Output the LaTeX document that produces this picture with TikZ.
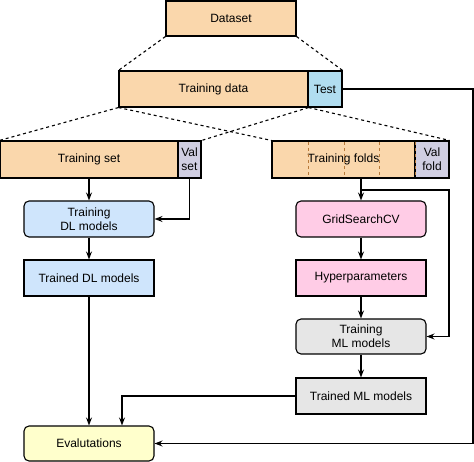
\documentclass[tikz,border=0pt]{standalone}
\usepackage{fontspec}
\setmainfont{Liberation Sans}
\definecolor{peach}{HTML}{FAD7AC}
\definecolor{testblue}{HTML}{B1DDF0}
\definecolor{valpurple}{HTML}{D0CEE2}
\definecolor{dlblue}{HTML}{CFE5FC}
\definecolor{mlpink}{HTML}{FFCCE6}
\definecolor{mlgray}{HTML}{E6E6E6}
\definecolor{evalyellow}{HTML}{FFFFCC}
\definecolor{folddash}{HTML}{B87A3A}
\usetikzlibrary{arrows.meta,positioning,calc}

\begin{document}
\begin{tikzpicture}[>=Stealth, x=1pt, y=-1pt, line width=1.1pt,
    every node/.style={font=\fontsize{12}{14}\selectfont, align=center, inner sep=0pt},
    part/.style={draw, minimum height=36pt},
    stage/.style={draw, minimum width=130pt, minimum height=36pt},
    roundstage/.style={stage, rounded corners=5pt}]
        \useasboundingbox (0,0) rectangle (474,462);

        % data splits
        \node (data) [part, fill=peach, minimum width=130pt, minimum height=35pt] at (231,18.5) {Dataset};
        \node (train) [part, fill=peach, minimum width=189pt] at (213.5,89) {Training data};
        \node (test) [part, fill=testblue, minimum width=34pt] at (325,89) {Test};
        \node (tset) [part, fill=peach, minimum width=178pt, minimum height=37pt] at (89,159.5) {Training set};
        \node (vset) [part, fill=valpurple, minimum width=23pt, minimum height=37pt] at (189.5,159.5) {Val\\set};
        \node (folds) [part, fill=peach, minimum width=143pt, minimum height=37pt] at (343.5,159.5) {Training folds};
        \node (vfold) [part, fill=valpurple, minimum width=34pt, minimum height=37pt] at (432,159.5) {Val\\fold};
        \foreach \fx in {308,344,379,415}
            \draw[folddash, dashed, line width=0.8pt] (\fx,142) -- (\fx,177);

        \draw[dashed] (data.south west) -- (train.north west);
        \draw[dashed] (data.south east) -- (test.north east);
        \draw[dashed] (train.south west) -- (tset.north west);
        \draw[dashed] (train.south west) -- (folds.north west);
        \draw[dashed] (train.south east) -- (vset.north east);
        \draw[dashed] (train.south east) -- (vfold.north east);

        % DL branch
        \node (dltrain) [roundstage, fill=dlblue] at (89,219) {Training\\DL models};
        \node (dlmodel) [stage, fill=dlblue] at (89,278) {Trained DL models};

        % ML branch
        \node (grid) [roundstage, fill=mlpink] at (361,219) {GridSearchCV};
        \node (hyper) [stage, fill=mlpink] at (361,278) {Hyperparameters};
        \node (mltrain) [roundstage, fill=mlgray, minimum height=35pt] at (361,336.5) {Training\\ML models};
        \node (mlmodel) [stage, fill=mlgray] at (361,396) {Trained ML models};

        \node (eval) [roundstage, fill=evalyellow, minimum height=35pt] at (89,443.5) {Evalutations};

        \coordinate (fork) at (361,190);
        \coordinate (foldside) at (449,190);
        \coordinate (rim) at (473,89);

        \draw[->] (tset) -- (dltrain);
        \draw[->] (vset.south) |- (dltrain.east);
        \draw[->] (dltrain) -- (dlmodel);
        \draw[->] (dlmodel) -- (eval);

        \draw[->] (folds.south -| grid.north) -- (grid.north);
        \draw[->] (fork) -- (foldside) |- (mltrain.east);
        \draw[->] (grid) -- (hyper);
        \draw[->] (hyper) -- (mltrain);
        \draw[->] (mltrain) -- (mlmodel);
        \draw[->] (mlmodel.west) -| ([xshift=33pt]eval.north);
        \draw[->] (test.east) -- (rim) |- (eval.east);
      \end{tikzpicture}
\end{document}
